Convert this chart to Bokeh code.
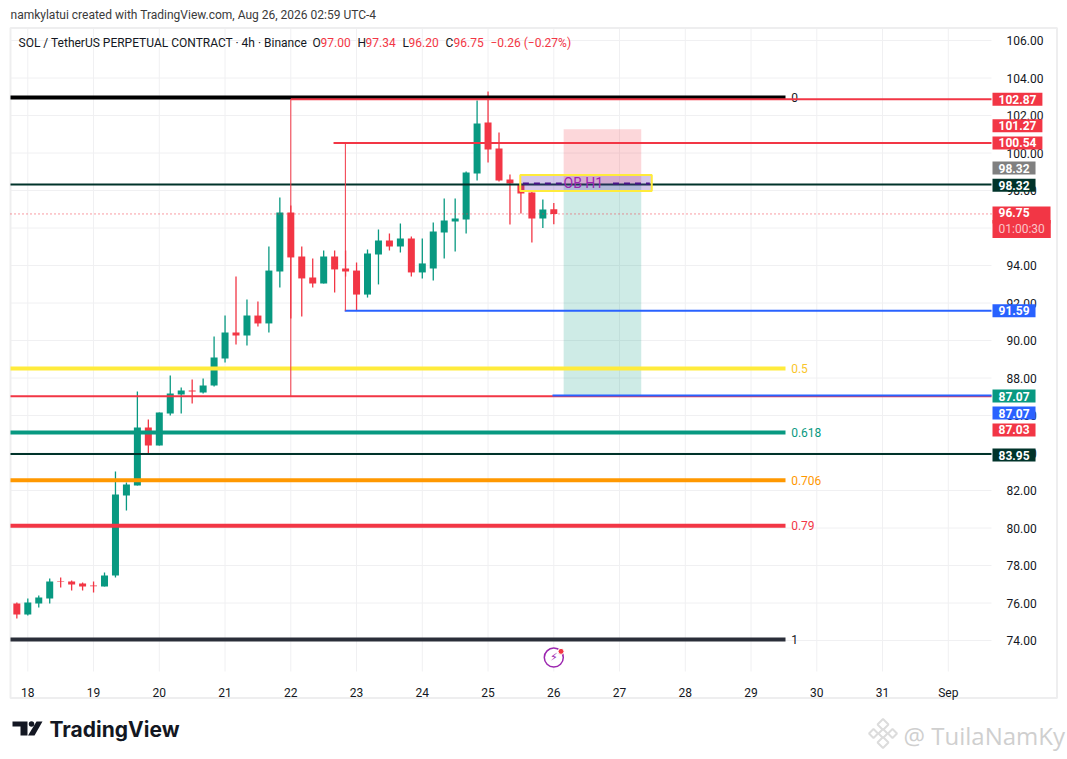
from bokeh.plotting import figure
from bokeh.models import Label, FixedTicker, LinearAxis, ColumnDataSource, Range1d
from bokeh.core.properties import value
from bokeh.embed import file_html
from bokeh.resources import INLINE

# ---- candle data (4h bars, index 0 = Aug 18 00:00)
bar_index = list(range(-1, 49))
opens = [75.97,75.39,75.97,76.24,77.15,77.15,77.04,76.93,76.88,77.47,81.73,82.27,85.36,84.40,86.11,87.12,87.33,87.23,87.60,89.04,90.43,90.27,91.33,90.91,93.68,96.83,94.48,93.36,93.04,94.48,93.84,93.73,92.45,94.59,95.33,95.01,95.44,93.63,93.84,95.76,96.35,96.45,98.91,101.63,100.24,98.59,98.32,97.89,96.51,97.00]
highs = [76.03,76.24,76.40,77.31,77.36,77.20,77.09,77.15,77.63,83.01,82.43,87.28,85.79,86.16,88.13,87.49,87.92,87.97,90.21,91.33,93.41,92.19,92.08,95.01,97.63,97.20,95.01,94.37,94.80,94.80,94.80,94.16,94.85,95.92,95.71,96.24,95.55,95.44,96.29,97.57,97.57,99.01,102.80,103.28,101.09,98.85,98.37,97.95,97.52,97.34]
lows = [75.17,75.33,75.76,75.97,76.83,76.67,76.67,76.56,76.88,77.36,80.93,82.27,83.97,84.40,86.00,86.11,86.64,87.17,87.55,88.83,89.79,89.73,90.75,90.43,92.83,91.17,91.28,92.83,93.04,92.56,93.41,91.60,92.29,92.99,94.80,94.69,93.41,93.31,93.20,94.37,94.75,95.71,98.53,99.49,98.48,96.19,96.77,95.23,96.00,96.20]
closes = [75.39,76.03,76.29,77.15,77.12,76.99,76.88,76.90,77.47,81.79,82.32,85.36,84.40,86.16,87.17,87.33,87.28,87.60,89.09,90.43,90.27,91.33,90.91,93.73,96.83,94.43,93.31,93.04,94.48,93.79,93.68,92.45,94.64,95.33,95.01,95.44,93.63,94.11,95.81,96.40,96.51,98.96,101.57,100.19,98.53,98.37,97.84,96.51,96.99,96.75]

price_ticks = [74,76,78,80,82,84,86,88,90,92,94,96,98,100,102,104,106]
day_ticks = [18,19,20,21,22,23,24,25,26,27,28,29,30,31,32]
day_labels = {32: "Sep"}

# fibonacci levels
fib_names = ["0","0.5","0.618","0.706","0.79","1"]
fib_values = [102.96,88.51,85.09,82.55,80.12,74.05]
fib_colors = ["#000000","#ffeb3b","#089981","#ff9800","#f23645","#2a2e39"]
fib_text_colors = ["#131722","#f9c52a","#089981","#ff9800","#f23645","#131722"]

RED = "#f23645"; GREEN = "#089981"; BLUE = "#2962ff"; DARK = "#00332a"
FONT = "Roboto"
W, H = 1067, 759
PX_DAY, PX_UNIT = 65.75, 18.75

# pixel -> axis helpers, only for the chart's chrome (frame, header, logo)
def X(px):
    return 18 + (px - 27.3) / PX_DAY
def Y(py):
    return 74 + (640 - py) / PX_UNIT

L, R, T, B = X(10), X(991), Y(28), Y(671)

p = figure(width=W, height=H, output_backend="svg", toolbar_location=None,
           x_range=Range1d(X(0), X(W)), y_range=Range1d(Y(H), Y(0)),
           min_border_left=0, min_border_right=0, min_border_top=0, min_border_bottom=0,
           background_fill_color="white", border_fill_color="white", outline_line_color=None,
           x_axis_location=None, y_axis_location=None)
GRID = "#f0f0f2"
p.xgrid.visible = False
p.ygrid.visible = False

yax = LinearAxis(ticker=FixedTicker(ticks=price_ticks), axis_line_color=None, fixed_location=R,
                 major_tick_line_color=None, minor_tick_line_color=None,
                 major_label_standoff=9, major_label_text_font=FONT, major_label_text_font_size="12px",
                 major_label_text_color="#131722",
                 major_label_overrides={t: f"{t:.2f}" for t in price_ticks})
p.add_layout(yax, "right")
xax = LinearAxis(ticker=FixedTicker(ticks=day_ticks), axis_line_color=None, fixed_location=B,
                 major_tick_line_color=None, minor_tick_line_color=None,
                 major_label_standoff=8, major_label_text_font=FONT, major_label_text_font_size="12px",
                 major_label_text_color="#131722",
                 major_label_overrides={**{d: str(d) for d in day_ticks}, **day_labels})
p.add_layout(xax, "below")

for t in price_ticks:
    p.segment(L, t, R, t, line_color=GRID, line_width=1)
for d in day_ticks:
    p.segment(d, B, d, T, line_color=GRID, line_width=1)

# outer frame
p.quad(left=X(10), right=X(1056.5), bottom=Y(697.5), top=Y(27.5), fill_color=None, line_color="#eeeeef", line_width=2)

# position tool zones
p.quad(left=26.15, right=27.33, bottom=98.32, top=101.27, fill_color=RED, fill_alpha=0.2, line_color=None)
p.quad(left=26.15, right=27.33, bottom=87.07, top=98.32, fill_color=GREEN, fill_alpha=0.2, line_color=None)

# candles
xs = [18 + i / 6 for i in bar_index]
cols = [GREEN if c >= o else RED for o, c in zip(opens, closes)]
src = ColumnDataSource(dict(x=xs, o=opens, h=highs, l=lows, c=closes, col=cols,
                            top=[max(a, b) for a, b in zip(opens, closes)],
                            bot=[min(a, b) for a, b in zip(opens, closes)]))
p.segment("x", "h", "x", "l", source=src, line_color="col", line_width=1.3)
p.vbar(x="x", top="top", bottom="bot", width=7 / PX_DAY, source=src, fill_color="col", line_color=None)

# fib lines
for v, c in zip(fib_values, fib_colors):
    p.segment(L, v, 29.524, v, line_color=c, line_width=4)
p.text(x=[29.61] * 6, y=fib_values, text=fib_names, text_color=fib_text_colors,
       text_font=value(FONT), text_font_size="12px", text_baseline="middle")

# horizontal levels
p.segment(22.0, 102.87, R, 102.87, line_color=RED, line_width=2)
p.segment(22.65, 100.54, R, 100.54, line_color=RED, line_width=2)
p.segment(L, 98.32, R, 98.32, line_color=DARK, line_width=2)
p.segment(22.82, 91.59, R, 91.59, line_color=BLUE, line_width=2)
p.segment(L, 87.03, R, 87.03, line_color=RED, line_width=2)
p.segment(25.98, 87.07, R, 87.07, line_color=BLUE, line_width=2)
p.segment(L, 83.95, R, 83.95, line_color=DARK, line_width=2)
p.segment(L, 96.75, R, 96.75, line_color=RED, line_width=1, line_dash="1 3")
p.segment(22.0, 102.87, 22.0, 87.03, line_color=RED, line_width=1)
p.segment(22.83, 100.54, 22.83, 91.59, line_color=RED, line_width=1)

# OB box
p.quad(left=25.49, right=27.49, bottom=97.98, top=98.83, fill_color="#673ab7", fill_alpha=0.28,
       line_color="#ffeb3b", line_width=2)
p.segment(25.53, 98.38, 26.12, 98.38, line_color="#4a148c", line_width=2, line_dash="6 5")
p.segment(26.9, 98.38, 27.46, 98.38, line_color="#4a148c", line_width=2, line_dash="6 5")
p.text(x=[26.45], y=[98.4], text=["OB H1"], text_color="#9c27b0", text_font=value(FONT),
       text_font_size="14px", text_align="center", text_baseline="middle")

# replay/lightning icon
p.scatter([26.0], [73.09], size=19, marker="circle", fill_color="white", line_color="#9c27b0", line_width=1.5)
p.text(x=[26.0], y=[73.09], text=["\u26a1"], text_color="#9c27b0", text_font=value("DejaVu Sans"),
       text_font_size="11px", text_align="center", text_baseline="middle")
p.scatter([26.11], [73.42], size=6, marker="circle", fill_color=RED, line_color="white")

# price tags
tag_text = ["102.87","101.27","100.54","98.32","98.32","91.59","87.07","87.07","87.03","83.95"]
tag_pos = [102.87,101.45,100.54,99.20,98.28,91.59,87.04,86.13,85.23,83.89]
tag_col = [RED,RED,RED,"#808080",DARK,BLUE,GREEN,BLUE,RED,DARK]
for t, y, c in zip(tag_text, tag_pos, tag_col):
    p.add_layout(Label(x=X(992), y=y, text=t, text_color="white", text_font=FONT,
                       text_font_size="12px", text_font_style="bold", text_baseline="middle",
                       background_fill_color=c, padding=(6, 2)))
last_price = "96.75"
countdown = "01:00:30"
p.add_layout(Label(x=X(992), y=96.70, text=last_price, text_color="white", text_font=FONT,
                   text_font_size="12px", text_font_style="bold", text_baseline="middle",
                   background_fill_color=RED, padding=(6, 21, 2, 6)))
p.add_layout(Label(x=X(992), y=95.95, text=countdown, text_color="#fbc4c9", text_font=FONT,
                   text_font_size="12px", text_baseline="middle",
                   background_fill_color=RED, padding=(6, 2)))

def txt(px, py, s, color="#131722", size="12px", font=FONT, style="normal"):
    p.text(x=[X(px)], y=[Y(py)], text=[s], text_color=color, text_font=value(font),
           text_font_size=size, text_font_style=style, text_baseline="middle")

txt(10, 14, "namkylatui created with TradingView.com, Aug 26, 2026 02:59 UTC-4", "#3a3a3a")
txt(18, 42, "SOL / TetherUS PERPETUAL CONTRACT \u00b7 4h \u00b7 Binance")
txt(312, 42, "O"); txt(320, 42, "97.00", RED)
txt(357, 42, "H"); txt(365, 42, "97.34", RED)
txt(402, 42, "L"); txt(408, 42, "96.20", RED)
txt(445, 42, "C"); txt(453, 42, "96.75", RED)
txt(490, 42, "\u22120.26 (\u22120.27%)", RED)
txt(49, 729, "TradingView", "#131722", "21px", "Inter", "bold")
txt(903, 735, "@ TuilaNamKy", "#cfcfcf", "24px", "Open Sans")

def poly(xp, yp, fill="#131722", line=None, lw=1):
    p.patch([X(a) for a in xp], [Y(b) for b in yp], fill_color=fill, fill_alpha=1 if fill else 0,
            line_color=line, line_width=lw)

# TradingView logo
poly([12,27,27,20,20,12], [721,721,735,735,726,726])
poly([36,42,34,27.5], [721,721,735,735])
p.scatter([X(31)], [Y(723.5)], size=5.5, marker="circle", fill_color="#131722", line_color=None)
# diamond watermark
for cx, cy, r in [(882.5,724,5.5),(873,733,4.5),(892,733,4.5),(882.5,733,4.5),(882.5,742,5.5)]:
    poly([cx-r,cx,cx+r,cx],[cy,cy-r,cy,cy+r], fill=None, line="#dcdcdc", lw=2)

open("out.html", "w").write(file_html(p, INLINE))
